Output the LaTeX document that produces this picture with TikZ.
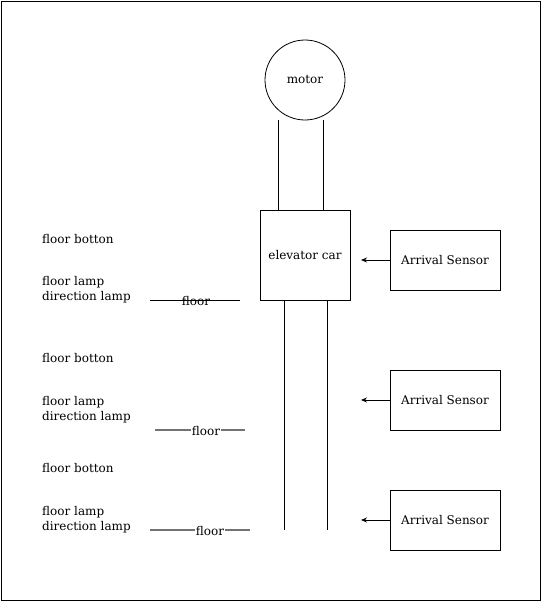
\documentclass[tikz,border=0pt]{standalone}
\usepackage{fontspec}
\setmainfont{DejaVu Serif}
\usetikzlibrary{arrows.meta}
\begin{document}
\begin{tikzpicture}[x=1pt,y=-1pt,
  every node/.style={font=\fontsize{12}{15}\selectfont},
  box/.style={draw,line width=0.8pt,minimum width=110pt,minimum height=60pt,inner sep=0},
  carbox/.style={draw,line width=0.8pt,minimum width=90pt,minimum height=90pt,inner sep=0},
  motorc/.style={draw,circle,line width=0.8pt,minimum size=80pt,inner sep=0},
  lbl/.style={anchor=west,align=left,inner sep=0},
  wire/.style={line width=0.8pt},
  floorline/.style={line width=1.5pt,draw=black!55},
  flab/.style={fill=white,inner sep=0.5pt},
  arr/.style={line width=0.8pt,-{Stealth[length=6pt,width=5pt]}}]
\useasboundingbox (0,0) rectangle (543,603);
\draw[line width=1pt] (1,1) rectangle (540,600);
% motor and car
\node[motorc] (motor) at (305,80) {motor};
\node[carbox] (car) at (305,255) {elevator car};
\draw[wire] ([xshift=-27pt]motor.south) -- ([xshift=-27pt]car.north);
\draw[wire] ([xshift=18pt]motor.south) -- ([xshift=18pt]car.north);
\coordinate (r1) at (284,530);
\coordinate (r2) at (327,530);
\draw[wire] (car.south -| r1) -- (r1);
\draw[wire] (car.south -| r2) -- (r2);
% sensors
\node[box] (s1) at (445,260) {Arrival Sensor};
\node[box] (s2) at (445,400) {Arrival Sensor};
\node[box] (s3) at (445,520) {Arrival Sensor};
\coordinate (a1) at (361,260);
\coordinate (a2) at (361,400);
\coordinate (a3) at (361,520);
\draw[arr] (s1.west) -- (a1);
\draw[arr] (s2.west) -- (a2);
\draw[arr] (s3.west) -- (a3);
% left labels
\node[lbl] (b1) at (42,239) {floor botton};
\node[lbl] (l1) at (42,289.5) {floor lamp\\direction lamp};
\node[lbl] (b2) at (42,358) {floor botton};
\node[lbl] (l2) at (42,409.5) {floor lamp\\direction lamp};
\node[lbl] (b3) at (42,468) {floor botton};
\node[lbl] (l3) at (42,519.5) {floor lamp\\direction lamp};
% floors
\coordinate (f1a) at (150,300); \coordinate (f1b) at (240,300);
\draw[line width=1pt] (f1a) -- (f1b);
\node[inner sep=0] (f1) at (196,301) {floor};
\coordinate (f2a) at (155,430); \coordinate (f2b) at (245,430);
\draw[floorline] (f2a) -- (f2b);
\node[flab] (f2) at (206,431) {floor};
\coordinate (f3a) at (150,530); \coordinate (f3b) at (250,530);
\draw[floorline] (f3a) -- (f3b);
\node[flab] (f3) at (210,531) {floor};
\end{tikzpicture}
\end{document}
